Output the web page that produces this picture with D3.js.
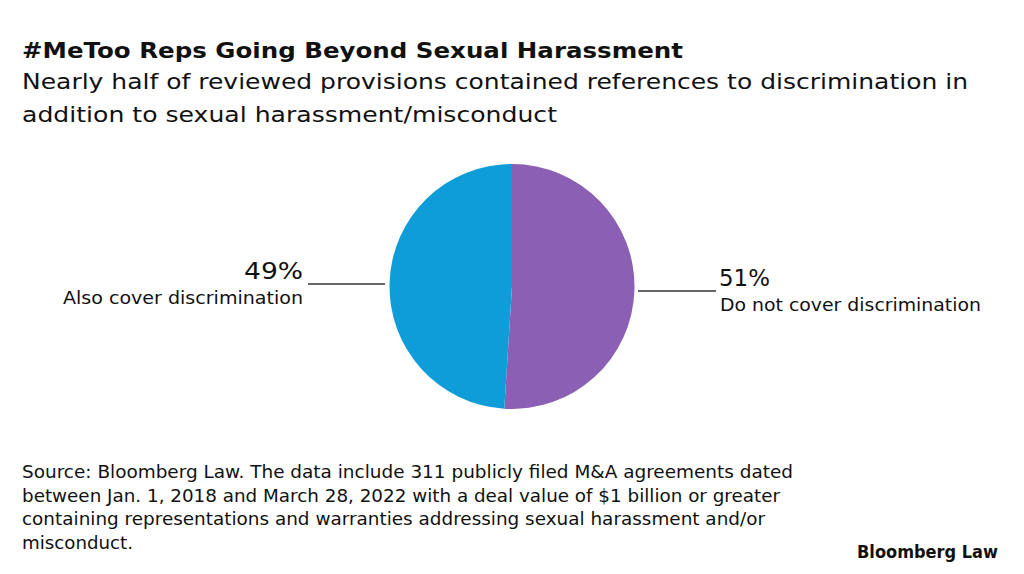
<!DOCTYPE html>
<html><head><meta charset="utf-8">
<script src="https://cdn.jsdelivr.net/npm/d3@7"></script>
<style>body{margin:0;background:#fff;} text{font-family:"DejaVu Sans","Liberation Sans",Arial,sans-serif;fill:#111;}</style>
</head><body>
<svg id="c" width="1024" height="574"></svg>
<script>
const categories = ["Do not cover discrimination", "Also cover discrimination"];
const values = [51, 49];
const colors = ["#8b5fb3", "#0f9dd9"];
const title = "#MeToo Reps Going Beyond Sexual Harassment";
const subtitle = ["Nearly half of reviewed provisions contained references to discrimination in", "addition to sexual harassment/misconduct"];
const source = ["Source: Bloomberg Law. The data include 311 publicly filed M&A agreements dated", "between Jan. 1, 2018 and March 28, 2022 with a deal value of $1 billion or greater", "containing representations and warranties addressing sexual harassment and/or", "misconduct."];

// layout (measured text widths from the reference)
const subW = [946, 535];
const srcW = [771, 758, 743, 111];

const svg = d3.select("#c");
function fit(sel, w){ sel.attr("textLength", w).attr("lengthAdjust","spacingAndGlyphs"); return sel; }

fit(svg.append("text").attr("x",22).attr("y",58).attr("font-size",21.5).attr("font-weight","bold").text(title), 661);
subtitle.forEach((s,i)=>fit(svg.append("text").attr("x",22).attr("y",89+i*33).attr("font-size",22).text(s), subW[i]));
source.forEach((s,i)=>fit(svg.append("text").attr("x",22).attr("y",478+i*23.5).attr("font-size",17.5).text(s), srcW[i]));
fit(svg.append("text").attr("x",857).attr("y",558).attr("font-size",18).attr("font-weight","bold").attr("fill","#222").text("Bloomberg Law"), 141);

const cx=512, cy=286.5, r=122.5;
const pie = d3.pie().sort(null).value(d=>d)(values);
const arc = d3.arc().innerRadius(0).outerRadius(r);
const g = svg.append("g").attr("transform",`translate(${cx},${cy})`);
g.selectAll("path").data(pie).join("path").attr("d",arc).attr("fill",(d,i)=>colors[i]);

// leader lines and labels
const lab = [
  {i:1, x1:308, x2:385, y:284, anchor:"end", tx:303, pw:59, lw:240},
  {i:0, x1:638, x2:716, y:291, anchor:"start", tx:719, pw:51, lw:261}
];
lab.forEach(l=>{
  svg.append("line").attr("x1",l.x1).attr("x2",l.x2).attr("y1",l.y).attr("y2",l.y).attr("stroke","#333").attr("stroke-width",1.3);
  fit(svg.append("text").attr("x",l.tx).attr("y",l.y-5).attr("text-anchor",l.anchor).attr("font-size",23).text(values[l.i]+"%"), l.pw);
  fit(svg.append("text").attr("x",l.tx+(l.anchor==="start"?1:0)).attr("y",l.y+20).attr("text-anchor",l.anchor).attr("font-size",17.5).text(categories[l.i]), l.lw);
});
</script>
</body></html>
